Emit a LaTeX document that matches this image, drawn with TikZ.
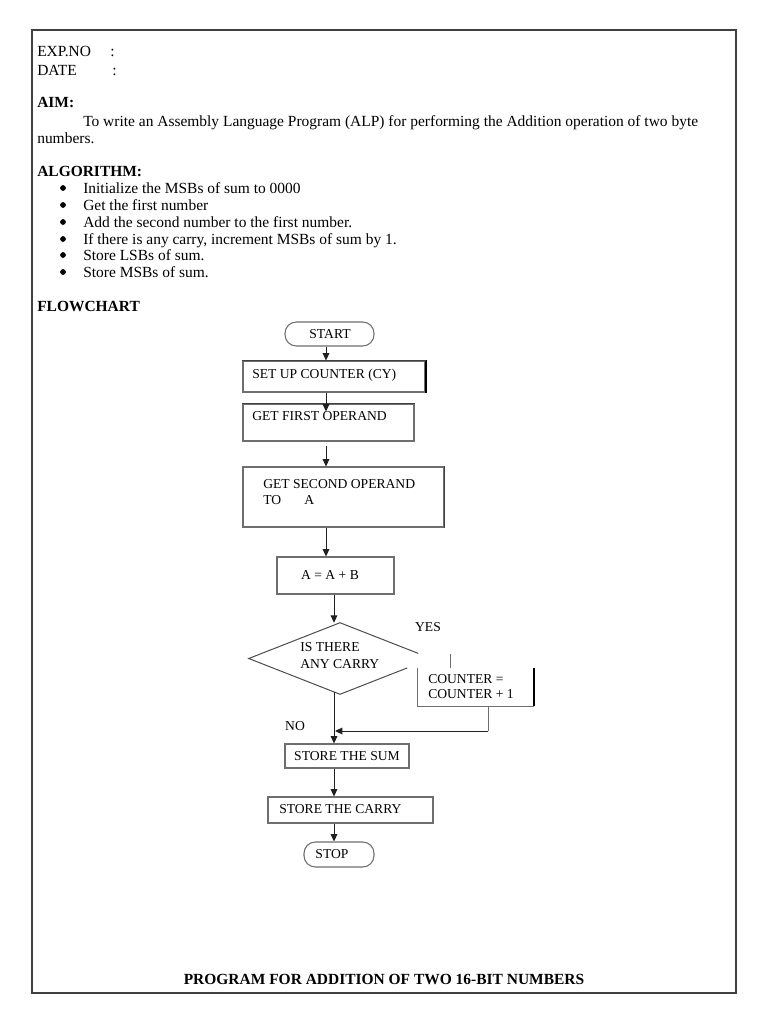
\documentclass[tikz,border=0pt]{standalone}
\usepackage{fontspec}
\setmainfont{Liberation Serif}
\usetikzlibrary{arrows.meta,shapes.geometric,calc}
\definecolor{framec}{HTML}{404040}
\definecolor{boxc}{HTML}{6E6E6E}
\definecolor{arrc}{HTML}{202020}
\tikzset{
  body/.style={inner sep=0pt,anchor=base west,font=\fontsize{11.6}{13}\selectfont},
  bodyb/.style={body,font=\fontsize{11.6}{13}\selectfont\bfseries},
  bul/.style={circle,fill=black,inner sep=0pt,minimum size=4.3pt},
  fc/.style={inner sep=0pt,anchor=base west,font=\fontsize{10.2}{12}\selectfont},
  fcc/.style={inner sep=0pt,font=\fontsize{10.2}{12}\selectfont},
  procbox/.style={draw=boxc,line width=0.8pt,rectangle,inner sep=0pt},
  termbox/.style={draw=boxc,line width=0.8pt,rectangle,rounded corners=8.5pt,inner sep=0pt},
  arr/.style={draw=arrc,line width=0.75pt,-{Triangle[length=5.5pt,width=5pt]}},
  plain/.style={draw=boxc,line width=0.75pt},
  darkedge/.style={draw=black,line width=1.5pt},
}
\begin{document}
\begin{tikzpicture}[x=0.75pt,y=-0.75pt]
\useasboundingbox (0,0) rectangle (768,1024);
\fill[white] (0,0) rectangle (768,1024);
% page frame
\draw[framec,line width=1.2pt] (31.7,30) rectangle (736,993);

% header text
\node[body] (expno) at (37,57) {\makebox[54.75pt][l]{EXP.NO}:};
\node[body] (date) at (37,75) {\makebox[56.25pt][l]{DATE}:};
\node[bodyb] (aimh) at (37,108) {AIM:};
\node[body] (aim1) at (83,126) {To write an Assembly Language Program (ALP) for performing the Addition operation of two byte};
\node[body] (aim2) at (37,143) {numbers.};
\node[bodyb] (algh) at (37,176) {ALGORITHM:};
\foreach \yy/\tx [count=\i] in {193/Initialize the MSBs of sum to 0000,
  210/Get the first number,
  227/Add the second number to the first number.,
  244/{If there is any carry, increment MSBs of sum by 1.},
  260/Store LSBs of sum.,
  277/Store MSBs of sum.}{
  \node[bul] (bul\i) at (63,\yy-5) {};
  \node[body] (alg\i) at (83,\yy) {\tx};
}
\node[bodyb] (flowh) at (37,311) {FLOWCHART};
\node[bodyb,anchor=base] (caption) at (384,984) {PROGRAM FOR ADDITION OF TWO 16-BIT NUMBERS};

% column coordinates for connectors
\coordinate (colA) at (326,0);
\coordinate (colB) at (334,0);
\coordinate (colC) at (488,0);

% flowchart boxes
\node[termbox,minimum width=66.75pt,minimum height=18pt] (start) at (329.5,334) {};
\node[fcc] (starttx) at (330,334) {START};

\node[procbox,minimum width=136.5pt,minimum height=23.25pt] (setup) at (334,376.5) {};
\draw[darkedge] (setup.north east) -- (setup.south east);
\draw[draw=framec,line width=0.9pt] (setup.north west) -- (setup.north east);
\node[fc] (setuptx) at (252,378) {SET UP COUNTER (CY)};

\node[procbox,minimum width=128.25pt,minimum height=27.75pt] (first) at (328.5,422.5) {};
\draw[draw=framec,line width=0.9pt] (first.north west) -- (first.north east);
\node[fc] (firsttx) at (252,420) {GET FIRST OPERAND};

\node[procbox,minimum width=150.75pt,minimum height=45pt] (second) at (343.5,497) {};
\draw[draw=framec,line width=0.9pt] (second.north east) -- (second.south east);
\node[fc] (secondtx1) at (263,488.5) {GET SECOND OPERAND};
\node[fc] (secondtx2) at (263,504.5) {\makebox[30.75pt][l]{TO}A};

\node[procbox,minimum width=87.75pt,minimum height=27.75pt] (add) at (335.5,575.5) {};
\node[fcc] (addtx) at (330,575.5) {A = A + B};

% decision (partly hidden edges)
\node[diamond,inner sep=0pt,minimum width=136.5pt,minimum height=53.25pt] (dia) at (340,658.5) {};
\draw[plain,draw=arrc!80] ($(dia.north)!0.857!(dia.east)$) -- (dia.north) -- (dia.west) -- (dia.south) -- ($(dia.south)!0.736!(dia.east)$);
\node[fc] (diatx1) at (300,651.5) {IS THERE};
\node[fc] (diatx2) at (300,668.5) {ANY CARRY};
\node[fcc] (yes) at (428,627) {YES};
\node[fcc] (no) at (295,726) {NO};

\node[inner sep=0pt,minimum width=87pt,minimum height=28.5pt] (counter) at (476,687) {};
\draw[plain] (counter.north west) -- (counter.south west) -- (counter.south east);
\draw[darkedge] (counter.north east) -- (counter.south east);
\node[fc] (countertx1) at (428,683.5) {COUNTER =};
\node[fc] (countertx2) at (428,698.5) {COUNTER + 1};
\coordinate (tick) at (450,654);
\draw[plain] (tick) -- (counter.north -| tick);

\node[procbox,minimum width=93pt,minimum height=18pt] (sum) at (347,756) {};
\node[fcc] (sumtx) at (347,756) {STORE THE SUM};

\node[procbox,minimum width=123.75pt,minimum height=19.5pt] (carry) at (350.5,810) {};
\node[fc] (carrytx) at (279,813.5) {STORE THE CARRY};

\node[termbox,minimum width=52.5pt,minimum height=18.75pt] (stop) at (339,854.5) {};
\node[fcc] (stoptx) at (332,854.5) {STOP};

% connectors
\draw[arr] (start.south -| colA) -- (setup.north -| colA);
\draw[arr] (setup.south -| colA) -- ($(first.north -| colA)+(0,8)$);
\draw[arr] ($(first.south -| colA)+(0,4)$) -- (second.north -| colA);
\draw[arr] (second.south -| colA) -- (add.north -| colA);
\draw[arr] (add.south -| colB) -- (dia.north -| colB);
\draw[arr] ($(dia.south -| colB)+(0,-2)$) -- (sum.north -| colB);
\coordinate (join) at (335,731);
\coordinate (bend) at (488,731);
\draw[plain] (counter.south -| colC) -- (bend);
\draw[arr] (bend) -- (join);
\draw[arr] (sum.south -| colB) -- (carry.north -| colB);
\draw[arr] (carry.south -| colB) -- (stop.north -| colB);
\end{tikzpicture}
\end{document}
